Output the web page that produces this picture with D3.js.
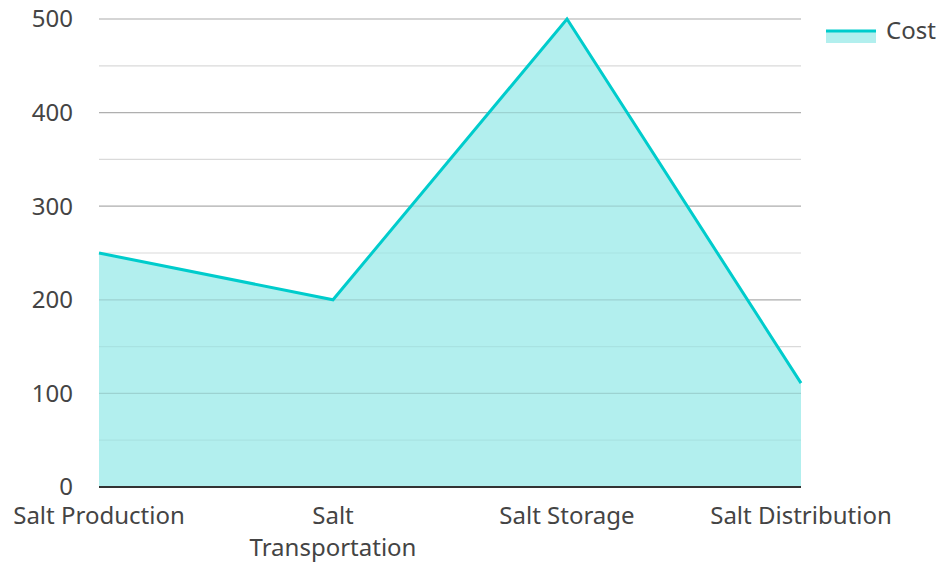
<!DOCTYPE html>
<html>
<head>
<meta charset="utf-8">
<script src="https://cdn.jsdelivr.net/npm/d3@7"></script>
<style>
  body { margin: 0; background: #fff; }
  text { font-family: "Noto Sans", "Open Sans", sans-serif; }
</style>
</head>
<body>
<div class="chart"></div>
<script>
var svgWidth = 939;
var svgHeight = 562;

var margin = { top: 19, right: 138, bottom: 75, left: 99 };
var width = svgWidth - margin.left - margin.right;
var height = svgHeight - margin.top - margin.bottom;

// data
var categories = ["Salt Production", "Salt Transportation", "Salt Storage", "Salt Distribution"];
var costs = [250, 200, 500, 111];
var seriesName = "Cost";
var majorTicks = [0, 100, 200, 300, 400, 500];
var minorTicks = [50, 150, 250, 350, 450];

var lineColor = "#00cccc";
var fillColor = "#b2efee";
var fontSize = 24;

var svg = d3.select(".chart")
  .append("svg")
  .attr("width", svgWidth)
  .attr("height", svgHeight);

var chart = svg.append("g")
  .attr("transform", "translate(" + margin.left + "," + margin.top + ")");

var x = d3.scalePoint()
  .domain(categories)
  .range([0, width]);

var y = d3.scaleLinear()
  .domain([0, 500])
  .range([height, 0]);

// grid lines
chart.selectAll(".minor")
  .data(minorTicks)
  .enter().append("line")
  .attr("x1", 0).attr("x2", width)
  .attr("y1", d => y(d)).attr("y2", d => y(d))
  .attr("stroke", "#e6e6e6")
  .attr("stroke-width", 1.2);

chart.selectAll(".major")
  .data(majorTicks.filter(d => d > 0))
  .enter().append("line")
  .attr("x1", 0).attr("x2", width)
  .attr("y1", d => y(d)).attr("y2", d => y(d))
  .attr("stroke", "#c8c8c8")
  .attr("stroke-width", 1.2);

// area + line
var pts = categories.map((c, i) => ({ c: c, v: costs[i] }));

var area = d3.area()
  .x(d => x(d.c))
  .y0(y(0))
  .y1(d => y(d.v));

var line = d3.line()
  .x(d => x(d.c))
  .y(d => y(d.v));

chart.append("path")
  .attr("d", area(pts))
  .attr("fill", fillColor);

// grid showing through the fill
chart.selectAll(".overgrid")
  .data(majorTicks.filter(d => d > 0).concat(minorTicks))
  .enter().append("line")
  .attr("x1", 0).attr("x2", width)
  .attr("y1", d => y(d)).attr("y2", d => y(d))
  .attr("stroke", "#000")
  .attr("stroke-opacity", d => d % 100 === 0 ? 0.12 : 0.05)
  .attr("stroke-width", 1.2);

chart.append("path")
  .attr("d", line(pts))
  .attr("fill", "none")
  .attr("stroke", lineColor)
  .attr("stroke-width", 3);

// baseline
chart.append("line")
  .attr("x1", 0).attr("x2", width)
  .attr("y1", y(0)).attr("y2", y(0))
  .attr("stroke", "#333")
  .attr("stroke-width", 2);

// y labels
chart.selectAll(".ylab")
  .data(majorTicks)
  .enter().append("text")
  .attr("x", -26)
  .attr("y", d => y(d))
  .attr("dy", "0.35em")
  .attr("text-anchor", "end")
  .attr("font-size", fontSize)
  .attr("fill", "#444")
  .text(d => d);

// x labels (wrap long ones)
var xlab = chart.selectAll(".xlab")
  .data(categories)
  .enter().append("text")
  .attr("x", d => x(d))
  .attr("y", height + 37)
  .attr("text-anchor", "middle")
  .attr("font-size", fontSize)
  .attr("fill", "#444");

xlab.each(function(d) {
  var t = d3.select(this);
  var lines = d.length > 18 ? d.split(" ") : [d];
  lines.forEach(function(w, i) {
    t.append("tspan")
      .attr("x", x(d))
      .attr("dy", i === 0 ? 0 : 32)
      .text(w);
  });
});

// legend
var legend = svg.append("g").attr("transform", "translate(826,31)");
legend.append("rect")
  .attr("x", 0).attr("y", 0)
  .attr("width", 50).attr("height", 12)
  .attr("fill", fillColor);
legend.append("line")
  .attr("x1", 0).attr("x2", 50)
  .attr("y1", 0).attr("y2", 0)
  .attr("stroke", lineColor)
  .attr("stroke-width", 3);
legend.append("text")
  .attr("x", 60)
  .attr("y", 0)
  .attr("dy", "0.35em")
  .attr("font-size", fontSize)
  .attr("fill", "#444")
  .text(seriesName);
</script>
</body>
</html>
